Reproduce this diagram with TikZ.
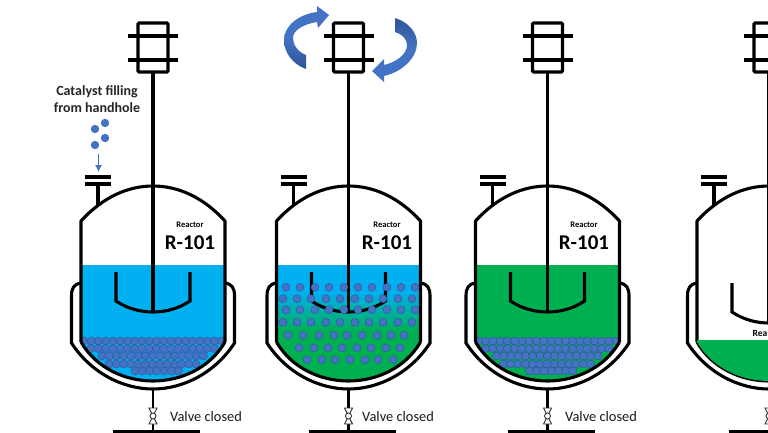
\documentclass[tikz,border=0pt]{standalone}
\usetikzlibrary{arrows.meta}
\usepackage{fontspec}
\setmainfont{Carlito}
\definecolor{liqblue}{HTML}{00B0F0}
\definecolor{liqgreen}{HTML}{00B050}
\definecolor{pellet}{HTML}{4472C4}
\definecolor{pelletedge}{HTML}{2F5597}

% agitator head, shaft and hand hole at centre #1, impeller lowered by #2
\newcommand{\agitator}[2]{
  \draw[wall, rounded corners=1pt] (#1-15,23) rectangle (#1+15,72);
  \draw[wall] (#1-25,36) -- (#1+25,36);
  \draw[wall] (#1-25,60) -- (#1+25,60);
  \draw[wall] (#1,72) -- (#1,{312+#2});
  \draw[wall] (#1-37,{272+#2}) -- (#1-37,{301+#2})
    .. controls (#1-25,{309+#2}) and (#1-12,{312+#2}) .. (#1,{312+#2})
    .. controls (#1+12,{312+#2}) and (#1+25,{309+#2}) .. (#1+37,{301+#2})
    -- (#1+37,{272+#2});
  \draw[wall] (#1-68,177) -- (#1-42,177);
  \draw[wall] (#1-68,184) -- (#1-42,184);
  \draw[wall] (#1-55,184) -- (#1-55,205);
}
% vessel shell, jacket, drain line and valve at centre #1
\newcommand{\vessel}[1]{
  \draw[wall, line join=round] (#1-72,342) -- (#1-72,221)
    .. controls (#1-50,197) and (#1-25,186) .. (#1,186)
    .. controls (#1+25,186) and (#1+50,197) .. (#1+72,221) -- (#1+72,342);
  \draw[wall] (#1-72,342) .. controls (#1-57,368) and (#1-28,381) .. (#1,381)
    .. controls (#1+28,381) and (#1+57,368) .. (#1+72,342);
  \draw[wall] (#1-72,283) .. controls (#1-79,284) and (#1-81.5,288) .. (#1-81.5,296)
    -- (#1-81.5,343) .. controls (#1-62,373) and (#1-30,389) .. (#1,389)
    .. controls (#1+30,389) and (#1+62,373) .. (#1+81.5,343) -- (#1+81.5,296)
    .. controls (#1+81.5,288) and (#1+79,284) .. (#1+72,283);
  \draw[thick line] (#1,389) -- (#1,432);
  \draw[valve] (#1-4,408) -- (#1+4,408) -- (#1-4,424) -- (#1+4,424) -- cycle;
  \draw[valve] (#1,416) circle (3);
  \draw[wall] (#1-40,432) -- (#1+47,432);
}
% liquid outline of a vessel at centre #1 from level #2
\newcommand{\liquid}[2]{
  (#1-72,#2) -- (#1-72,342) .. controls (#1-57,368) and (#1-28,381) .. (#1,381)
  .. controls (#1+28,381) and (#1+57,368) .. (#1+72,342) -- (#1+72,#2) -- cycle
}
% settled catalyst bed at centre #1
\newcommand{\catbed}[1]{
  \foreach \yy/\xs/\nn in {341/-69/19, 348.5/-62/17, 356/-51/14, 364/-44/12, 371/-18/6}
    \foreach \ii in {0,...,\nn}
      \draw[catdot] ({#1+\xs+7.25*\ii},\yy) circle (4);
}

\begin{document}
\begin{tikzpicture}[
    x=1pt, y=-1pt,
    wall/.style={draw=black, line width=3.1pt},
    thick line/.style={draw=black, line width=2.2pt},
    valve/.style={draw=black!80, line width=0.9pt, fill=white},
    catdot/.style={draw=pelletedge, line width=0.4pt, fill=pellet},
    swirl/.style={line width=0pt},
    big/.style={font=\fontsize{21}{23}\selectfont\bfseries, inner sep=0pt},
    small/.style={font=\fontsize{8.5}{10}\selectfont\bfseries, inner sep=0pt},
    note/.style={font=\fontsize{14.4}{15}\selectfont, inner sep=0pt, text=black!90},
  ]
  \path[use as bounding box, clip] (0,0) rectangle (768,433);
  \fill[white] (0,0) rectangle (768,433);

  % --- Reactor 1: blue liquid, settled catalyst ---
  \fill[liqblue] \liquid{153}{265};
  \catbed{153}
  \vessel{153}
  \agitator{153}{0}
  \node[small] (rxa) at (190,225) {Reactor};
  \node[big]   (tga) at (190,243) {R-101};
  \node[note, anchor=west] (vla) at (170,417) {Valve closed};

  % --- Catalyst filling ---
  \node[font=\fontsize{14}{17}\selectfont\bfseries, align=center, inner sep=0pt, text=black!85]
    (fill) at (97,99) {Catalyst filling\\from handhole};
  \fill[pellet] (95,129) circle (4.2);
  \fill[pellet] (105,123) circle (4.2);
  \fill[pellet] (105,138) circle (4.2);
  \fill[pellet] (95,145) circle (4.2);
  \coordinate (dropa) at (98.5,154);
  \coordinate (dropb) at (98.5,172);
  \draw[-{Latex[length=7pt,width=7pt]}, pellet, line width=1.2pt] (dropa) -- (dropb);

  % --- Reactor 2: mixing ---
  \begin{scope}
    \clip \liquid{348.5}{265};
    \fill[liqblue] (270,265) rectangle (430,292);
    \shade[top color=liqblue, bottom color=liqgreen] (270,292) rectangle (430,332);
    \fill[liqgreen] (270,332) rectangle (430,385);
  \end{scope}
  \vessel{348.5}
  \agitator{348.5}{0}
  \foreach \xx in {286,300,315,329,344,358,372,387,401,415} {
    \draw[catdot] (\xx,287.3) circle (4);
    \draw[catdot] (\xx,309.7) circle (4);
  }
  \foreach \xx in {283,297,311,326,340,355,369,383,398,412} {
    \draw[catdot] (\xx,298.7) circle (4);
    \draw[catdot] (\xx,322.3) circle (4);
  }
  \foreach \xx in {288,303,319,334,347,362,377,391,404}
    \draw[catdot] (\xx,335.3) circle (4);
  \foreach \xx in {299,314,328,342,357,371,386,400}
    \draw[catdot] (\xx,347.7) circle (4);
  \foreach \xx in {307,322,335,350,365,378,393}
    \draw[catdot] (\xx,359.7) circle (4);
  \node[small] (rxb) at (387,225) {Reactor};
  \node[big]   (tgb) at (387,243) {R-101};
  \node[note, anchor=west] (vlb) at (362,417) {Valve closed};

  % --- Rotation arrows ---
  \shade[swirl, top color=pellet, bottom color=pelletedge, middle color=pellet]
    (306,69) .. controls (292,64) and (284,52) .. (284,40)
    .. controls (284,25) and (300,14) .. (317,12) -- (317,6) -- (329,15)
    -- (318,28) -- (317,22) .. controls (304,24) and (293,30) .. (293,38)
    .. controls (293,45) and (298,52) .. (306,55) -- cycle;
  \shade[swirl, top color=pelletedge, bottom color=pellet, middle color=pellet]
    (395,18) .. controls (408,22) and (417,32) .. (417,43)
    .. controls (417,58) and (402,72) .. (384,76) -- (384,82) -- (372,71)
    -- (384,59) -- (384,65) .. controls (397,62) and (407,54) .. (407,45)
    .. controls (407,39) and (402,34) .. (395,32) -- cycle;

  % --- Reactor 3: green liquid, settled catalyst ---
  \fill[liqgreen] \liquid{547.5}{265};
  \catbed{547.5}
  \vessel{547.5}
  \agitator{547.5}{0}
  \node[small] (rxc) at (584,225) {Reactor};
  \node[big]   (tgc) at (584,243) {R-101};
  \node[note, anchor=west] (vlc) at (565,417) {Valve closed};

  % --- Reactor 4: draining ---
  \vessel{769}
  \agitator{769}{11}
  \fill[liqgreen] \liquid{769}{340};
  \node[small, anchor=west, font=\fontsize{9.5}{12}\selectfont\bfseries] (rxd) at (752.5,333) {Rea};
\end{tikzpicture}
\end{document}
